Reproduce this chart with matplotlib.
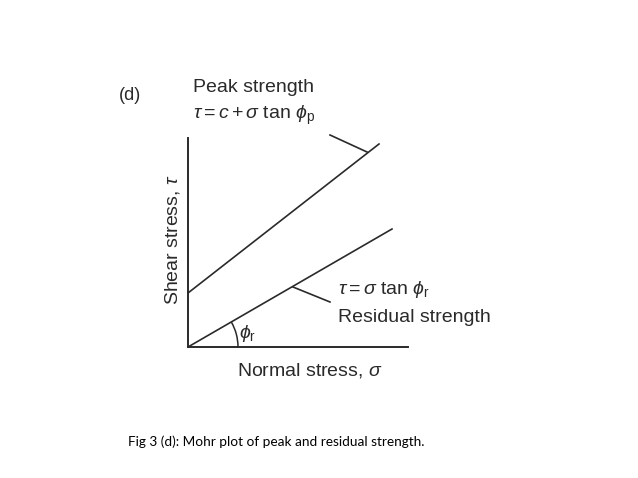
import numpy as np
import matplotlib
matplotlib.use("Agg")
from matplotlib import pyplot as plt
from matplotlib.patches import Arc

plt.rcParams['font.family'] = ['Liberation Sans', 'DejaVu Sans']
plt.rcParams['mathtext.fontset'] = 'custom'
plt.rcParams['mathtext.rm'] = 'Liberation Sans'
plt.rcParams['mathtext.it'] = 'Liberation Sans:italic'

# envelope end points (normal stress, shear stress), arbitrary units
peak_sigma = [0, 191]
peak_tau = [54, 203]
resid_sigma = [0, 204]
resid_tau = [0, 118]

# leader lines from labels to envelopes
peak_leader_sigma = [142, 179]
peak_leader_tau = [212, 195]
resid_leader_sigma = [105, 142]
resid_leader_tau = [60, 45]

ink = '#2a2a2a'

fig = plt.figure(figsize=(6.38, 4.78), dpi=100)
W, H = 638, 478
ax = fig.add_axes([188 / W, (H - 347) / H, 220 / W, 209 / H])
ax.set_xlim(0, 220)
ax.set_ylim(0, 209)
for s in ['top', 'right']:
    ax.spines[s].set_visible(False)
for s in ['left', 'bottom']:
    ax.spines[s].set_linewidth(1.4)
    ax.spines[s].set_color(ink)
ax.set_xticks([])
ax.set_yticks([])

ax.plot(peak_sigma, peak_tau, color=ink, lw=1.2, clip_on=False)
ax.plot(resid_sigma, resid_tau, color=ink, lw=1.2, clip_on=False)
ax.plot(peak_leader_sigma, peak_leader_tau, color=ink, lw=1.2, clip_on=False)
ax.plot(resid_leader_sigma, resid_leader_tau, color=ink, lw=1.2, clip_on=False)

phi_r = np.degrees(np.arctan2(resid_tau[1], resid_sigma[1]))
ax.add_patch(Arc((0, 0), 100, 100, theta1=0, theta2=phi_r, color=ink, lw=1.1))

fs = 14
ax.text(-58, 252, '(d)', fontsize=13, color=ink, ha='center', va='center', clip_on=False)
ax.text(5, 259, 'Peak strength', fontsize=fs, color=ink, ha='left', va='center', clip_on=False)
ax.text(5, 232, r'$\tau = c + \sigma\ \mathrm{tan}\ \phi_\mathrm{p}$', fontsize=fs,
        color=ink, ha='left', va='center', clip_on=False)
ax.text(150, 57, r'$\tau = \sigma\ \mathrm{tan}\ \phi_\mathrm{r}$', fontsize=fs,
        color=ink, ha='left', va='center', clip_on=False)
ax.text(150, 29, 'Residual strength', fontsize=fs, color=ink, ha='left', va='center', clip_on=False)
ax.text(60, 14, r'$\phi_\mathrm{r}$', fontsize=fs, color=ink, ha='center', va='center', clip_on=False)
ax.text(122, -23, r'Normal stress, $\sigma$', fontsize=fs, color=ink, ha='center', va='center',
        clip_on=False)
ax.text(-16, 107, r'Shear stress, $\tau$', fontsize=fs, color=ink, ha='center', va='center',
        rotation=90, clip_on=False)

fig.text(128 / W, 1 - 442 / H, 'Fig 3 (d): Mohr plot of peak and residual strength.',
         fontsize=9.8, family=['Lato', 'DejaVu Sans'], color='black', ha='left', va='center')

fig.savefig('out.png', dpi=100)
